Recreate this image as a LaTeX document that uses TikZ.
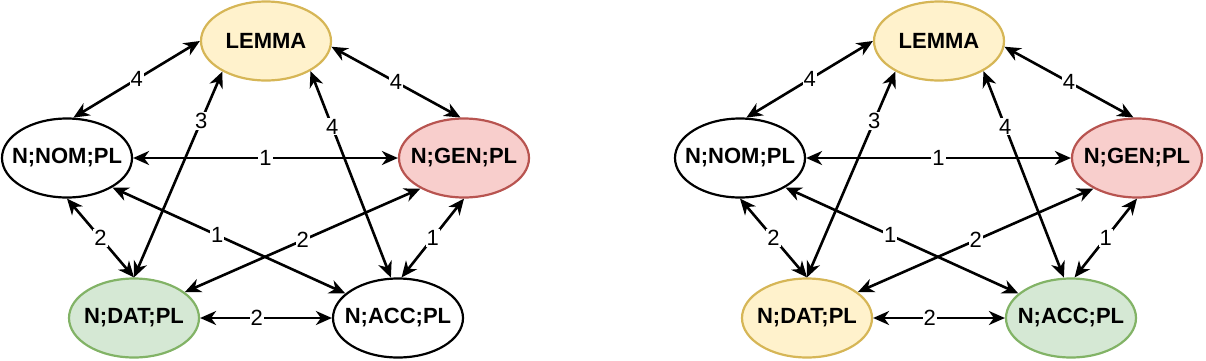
\documentclass[tikz,border=0pt]{standalone}
\usepackage{fontspec}
\setmainfont{Liberation Sans}
\usepackage{tikz}
\usetikzlibrary{arrows.meta, shapes.geometric}
\definecolor{ylwfill}{HTML}{FFF2CC}
\definecolor{ylwline}{HTML}{D6B656}
\definecolor{redfill}{HTML}{F8CECC}
\definecolor{redline}{HTML}{B85450}
\definecolor{grnfill}{HTML}{D5E8D4}
\definecolor{grnline}{HTML}{82B366}
\tikzset{
  form/.style={ellipse, draw=black, fill=white, line width=1.1pt, minimum width=65pt, minimum height=39.5pt,
    inner xsep=-14pt, inner ysep=0pt, font=\fontsize{11}{13}\selectfont\bfseries},
  ylwform/.style={form, draw=ylwline, fill=ylwfill},
  redform/.style={form, draw=redline, fill=redfill},
  grnform/.style={form, draw=grnline, fill=grnfill},
  link/.style={<->, line width=1.3pt},
  lab/.style={fill=white, inner sep=0.5pt, font=\fontsize{11}{13}\selectfont}
}

\begin{document}
\begin{tikzpicture}[x=0.5pt, y=-0.5pt, >={Stealth[length=8pt, width=7pt, inset=2.5pt]}]
  \useasboundingbox (0,0) rectangle (1206,360);

  % left graph
  \node[ylwform] (lemL) at (266,41) {LEMMA};
  \node[form] (nomL) at (67,158) {N;NOM;PL};
  \node[redform] (genL) at (464,158) {N;GEN;PL};
  \node[grnform] (datL) at (134,318) {N;DAT;PL};
  \node[form] (accL) at (398,318) {N;ACC;PL};
  \draw[link] (nomL.81) -- node[lab]{4} (lemL.west);
  \draw[link] (lemL.-5) -- node[lab]{4} (genL.95);
  \draw[link] (nomL.east) -- node[lab]{1} (genL.west);
  \draw[link] (lemL.215) -- node[lab, pos=0.24]{3} (datL.north);
  \draw[link] (lemL.-34) -- node[lab, pos=0.27]{4} (accL.100);
  \draw[link] (nomL.south) -- node[lab]{2} (datL.north);
  \draw[link] (nomL.-33) -- node[lab, pos=0.45]{1} (accL.155);
  \draw[link] (datL.27) -- node[lab]{2} (genL.215);
  \draw[link] (genL.south) -- node[lab]{1} (accL.85);
  \draw[link] (datL.east) -- node[lab, pos=0.43]{2} (accL.west);

  % right graph
  \node[ylwform] (lemR) at (939,41) {LEMMA};
  \node[form] (nomR) at (740,158) {N;NOM;PL};
  \node[redform] (genR) at (1137,158) {N;GEN;PL};
  \node[ylwform] (datR) at (807,318) {N;DAT;PL};
  \node[grnform] (accR) at (1071,318) {N;ACC;PL};
  \draw[link] (nomR.81) -- node[lab]{4} (lemR.west);
  \draw[link] (lemR.-5) -- node[lab]{4} (genR.95);
  \draw[link] (nomR.east) -- node[lab]{1} (genR.west);
  \draw[link] (lemR.215) -- node[lab, pos=0.24]{3} (datR.north);
  \draw[link] (lemR.-34) -- node[lab, pos=0.27]{4} (accR.100);
  \draw[link] (nomR.south) -- node[lab]{2} (datR.north);
  \draw[link] (nomR.-33) -- node[lab, pos=0.45]{1} (accR.155);
  \draw[link] (datR.27) -- node[lab]{2} (genR.215);
  \draw[link] (genR.south) -- node[lab]{1} (accR.85);
  \draw[link] (datR.east) -- node[lab, pos=0.43]{2} (accR.west);
\end{tikzpicture}
\end{document}
